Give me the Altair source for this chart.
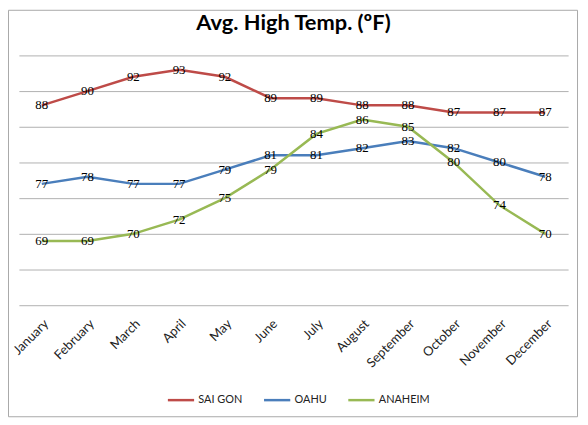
import altair as alt
import pandas as pd

months = ["January", "February", "March", "April", "May", "June", "July",
          "August", "September", "October", "November", "December"]
cities = ["SAI GON", "OAHU", "ANAHEIM"]
saigon = [88, 90, 92, 93, 92, 89, 89, 88, 88, 87, 87, 87]
oahu = [77, 78, 77, 77, 79, 81, 81, 82, 83, 82, 80, 78]
anaheim = [69, 69, 70, 72, 75, 79, 84, 86, 85, 80, 74, 70]
colors = ["#BE4B48", "#4A7EBB", "#98B954"]
grid_values = [60, 65, 70, 75, 80, 85, 90, 95]

rows = []
for city, temps in zip(cities, [saigon, oahu, anaheim]):
    for m, t in zip(months, temps):
        rows.append({"city": city, "month": m, "temp": t})
df = pd.DataFrame(rows)

x = alt.X("month:N", sort=months, title=None,
          scale=alt.Scale(type="point", padding=0.5),
          axis=alt.Axis(labelAngle=-45, labelFont="Lato", labelFontSize=13,
                        labelColor="#222", labelPadding=12, domain=False,
                        ticks=False, grid=False))
y = alt.Y("temp:Q", title=None,
          scale=alt.Scale(domain=[60, 95], nice=False, zero=False),
          axis=alt.Axis(values=grid_values, labels=False, ticks=False,
                        domain=False, grid=True, gridColor="#b0b0b0",
                        gridWidth=1))

base = alt.Chart(df).encode(x=x, y=y)

lines = base.mark_line(strokeWidth=2.5).encode(
    color=alt.Color("city:N", scale=alt.Scale(domain=cities, range=colors),
                    legend=alt.Legend(orient="none", legendX=149, legendY=333,
                                      direction="horizontal", title=None,
                                      symbolType="stroke", symbolSize=700,
                                      symbolStrokeWidth=2.5, labelFont="Lato",
                                      labelFontSize=11, labelColor="#222",
                                      columnPadding=16, labelOffset=3))
)

labels = base.mark_text(font="Liberation Serif", fontSize=13, color="black").encode(
    text="temp:Q"
)

# thin frame around the whole chart
frame = alt.Chart(pd.DataFrame({"a": [0]})).mark_rect(
    fillOpacity=0, stroke="#a8a8a8", strokeWidth=1
).encode(x=alt.value(-10.5), x2=alt.value(563.5), y=alt.value(-45.5), y2=alt.value(364.5))

chart = alt.layer(frame, lines, labels).properties(
    width=554, height=252,
    title=alt.Title("Avg. High Temp. (ºF)", font="Lato", fontSize=22,
                    fontWeight="bold", color="black", anchor="middle", offset=-25),
    autosize=alt.AutoSizeParams(type="none"),
    padding={"left": 11, "top": 46, "right": 12, "bottom": 116},
    background="white",
).configure_view(stroke="transparent")

chart.save("out.html", embed_options={"renderer": "svg", "actions": False})
